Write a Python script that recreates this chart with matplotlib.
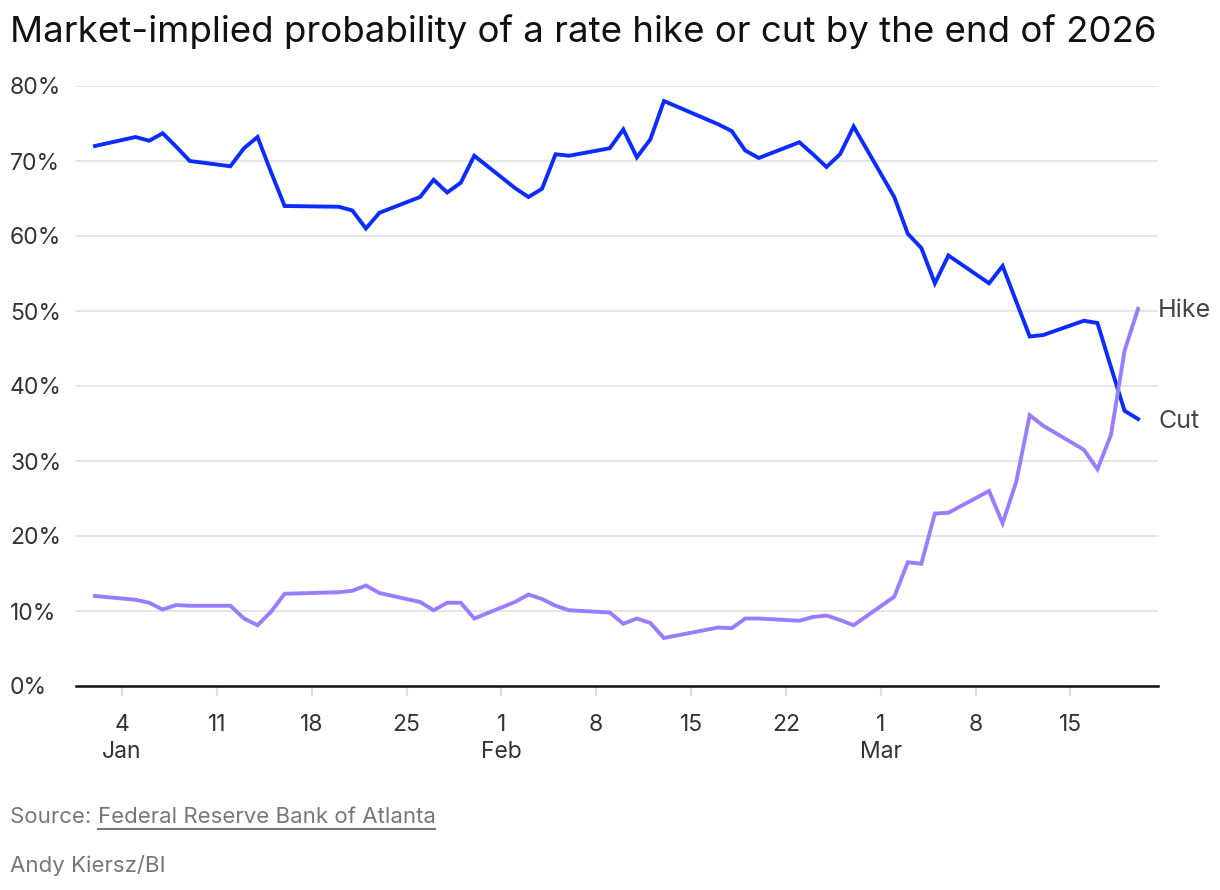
import matplotlib
matplotlib.use("Agg")
import matplotlib.pyplot as plt
import matplotlib.dates as mdates
from matplotlib.lines import Line2D
import numpy as np

plt.rcParams['font.family'] = ['Inter', 'DejaVu Sans']

# trading days, Jan 2 - Mar 20 2026
dates = [
    "2026-01-02", "2026-01-05", "2026-01-06", "2026-01-07", "2026-01-08", "2026-01-09",
    "2026-01-12", "2026-01-13", "2026-01-14", "2026-01-15", "2026-01-16",
    "2026-01-20", "2026-01-21", "2026-01-22", "2026-01-23",
    "2026-01-26", "2026-01-27", "2026-01-28", "2026-01-29", "2026-01-30",
    "2026-02-02", "2026-02-03", "2026-02-04", "2026-02-05", "2026-02-06",
    "2026-02-09", "2026-02-10", "2026-02-11", "2026-02-12", "2026-02-13",
    "2026-02-17", "2026-02-18", "2026-02-19", "2026-02-20",
    "2026-02-23", "2026-02-24", "2026-02-25", "2026-02-26", "2026-02-27",
    "2026-03-02", "2026-03-03", "2026-03-04", "2026-03-05", "2026-03-06",
    "2026-03-09", "2026-03-10", "2026-03-11", "2026-03-12", "2026-03-13",
    "2026-03-16", "2026-03-17", "2026-03-18", "2026-03-19", "2026-03-20",
]

cut = [
    72.0, 73.2, 72.7, 73.7, 71.9, 70.0,
    69.3, 71.7, 73.2, 68.5, 64.0,
    63.9, 63.4, 61.0, 63.1,
    65.2, 67.5, 65.8, 67.1, 70.7,
    66.4, 65.2, 66.3, 70.9, 70.7,
    71.7, 74.2, 70.5, 72.9, 78.0,
    74.9, 74.0, 71.4, 70.4,
    72.5, 70.9, 69.2, 70.9, 74.6,
    65.2, 60.3, 58.4, 53.7, 57.4,
    53.7, 56.0, 51.3, 46.6, 46.8,
    48.7, 48.4, 42.5, 36.7, 35.6,
]

hike = [
    12.0, 11.5, 11.1, 10.2, 10.8, 10.7,
    10.7, 9.0, 8.1, 9.9, 12.3,
    12.5, 12.7, 13.4, 12.4,
    11.2, 10.1, 11.1, 11.1, 9.0,
    11.2, 12.2, 11.6, 10.7, 10.1,
    9.8, 8.3, 9.0, 8.4, 6.4,
    7.8, 7.7, 9.0, 9.0,
    8.7, 9.2, 9.4, 8.8, 8.1,
    11.9, 16.5, 16.3, 23.0, 23.1,
    26.0, 21.7, 27.2, 36.1, 34.7,
    31.5, 28.9, 33.5, 44.7, 50.3,
]

tick_dates = ["2026-01-04", "2026-01-11", "2026-01-18", "2026-01-25", "2026-02-01",
              "2026-02-08", "2026-02-15", "2026-02-22", "2026-03-01", "2026-03-08",
              "2026-03-15"]
tick_labels = ["4\nJan", "11", "18", "25", "1\nFeb", "8", "15", "22", "1\nMar", "8", "15"]
y_ticks = [0, 10, 20, 30, 40, 50, 60, 70, 80]

x = mdates.datestr2num(dates)
xt = mdates.datestr2num(tick_dates)

fig = plt.figure(figsize=(12.2, 8.9), dpi=100)
ax = fig.add_axes([76 / 1220, 1 - 686 / 890, (1158 - 76) / 1220, 600 / 890])

ax.plot(x, cut, color='#0a2cff', lw=2.8, solid_joinstyle='miter', zorder=3)
ax.plot(x, hike, color='#9a7cff', lw=2.8, solid_joinstyle='miter', zorder=3)

ax.set_xlim(x[0] - 1.4, x[-1] + 1.47)
ax.set_ylim(0, 80)

ax.set_yticks(y_ticks)
ax.set_yticklabels([f"{v}%" for v in y_ticks])
ax.tick_params(axis='y', length=0, pad=47.5, labelsize=16.5, labelcolor='#333333')
for lab in ax.get_yticklabels():
    lab.set_horizontalalignment('left')
ax.grid(axis='y', color='#e3e3e3', lw=1.3)
ax.set_axisbelow(True)

ax.set_xticks(xt)
ax.set_xticklabels(tick_labels, linespacing=1.3)
ax.tick_params(axis='x', length=7, width=1.5, color='#dddddd', pad=13,
               labelsize=16.5, labelcolor='#333333')

for s in ['top', 'right', 'left']:
    ax.spines[s].set_visible(False)
ax.spines['bottom'].set_color('#111111')
ax.spines['bottom'].set_linewidth(1.8)
ax.spines['bottom'].set_zorder(4)

# line end labels
ax.annotate("Hike", xy=(1.0, hike[-1]), xycoords=('axes fraction', 'data'),
            xytext=(0, -1), textcoords='offset points', va='center', ha='left',
            fontsize=18, color='#444444')
ax.annotate("Cut", xy=(1.0, cut[-1]), xycoords=('axes fraction', 'data'),
            xytext=(0, -2), textcoords='offset points', va='center', ha='left',
            fontsize=18, color='#444444')

fig.text(10 / 1220, 1 - 42 / 890,
         "Market-implied probability of a rate hike or cut by the end of 2026",
         fontsize=26.4, color='#111111', va='baseline', ha='left')

src = fig.text(10 / 1220, 1 - 823 / 890, "Source: ", fontsize=16, color='#777777',
               va='baseline', ha='left')
fig.canvas.draw()
r = fig.canvas.get_renderer()
bb = src.get_window_extent(r)
link = fig.text(bb.x1 / 1220, 1 - 823 / 890, "Federal Reserve Bank of Atlanta",
                fontsize=16, color='#777777', va='baseline', ha='left')
bb2 = link.get_window_extent(r)
uy = 1 - 829 / 890
fig.add_artist(Line2D([bb2.x0 / 1220, bb2.x1 / 1220], [uy, uy],
                      color='#777777', lw=1.5, transform=fig.transFigure))

fig.text(10 / 1220, 1 - 872 / 890, "Andy Kiersz/BI", fontsize=16, color='#777777',
         va='baseline', ha='left')

fig.savefig("out.png", dpi=100)
